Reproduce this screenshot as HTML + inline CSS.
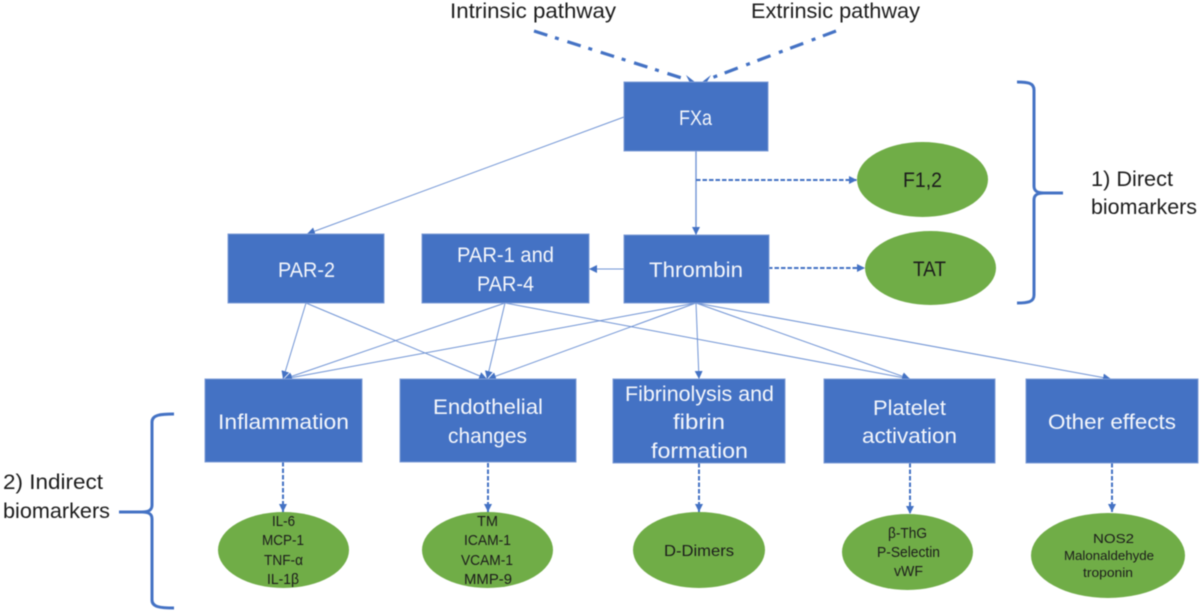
<!DOCTYPE html>
<html lang="en">
<head>
<meta charset="utf-8">
<title>Coagulation biomarkers diagram</title>
<style>
html,body{margin:0;padding:0;background:#fff;width:1200px;height:612px;overflow:hidden}
svg{display:block;filter:blur(.5px)}
text{font-family:"Liberation Sans",sans-serif}
.w text{fill:#f4f6fb;font-size:21px}
.k{fill:#1c1c1c;font-size:21px}
.s{fill:#1c1c1c;font-size:15px}
.t{fill:#1c1c1c;font-size:13px}
.r{fill:#4472C4;stroke:#7f9dd6;stroke-width:1}
.e{fill:#70AD47}
.l{stroke:#6f93d4;stroke-width:1;fill:none}
.d{stroke:#4472C4;stroke-width:2;stroke-dasharray:4.5 2;fill:none}
.b{stroke:#4472C4;stroke-width:3;fill:none}
</style>
</head>
<body>
<svg width="1200" height="612" viewBox="0 0 1200 612" xmlns="http://www.w3.org/2000/svg">
<defs>
<marker id="a" markerWidth="10" markerHeight="10" refX="8" refY="4" orient="auto" markerUnits="userSpaceOnUse"><path d="M0,0 L8,4 L0,8 Z" fill="#4472C4"/></marker>
</defs>

<g class="l">
<line x1="624" y1="117" x2="307" y2="234" marker-end="url(#a)"/>
<line x1="696" y1="151" x2="696" y2="235" marker-end="url(#a)" style="stroke-width:1.4"/>
<line x1="624" y1="269" x2="589" y2="269" marker-end="url(#a)"/>
<line x1="306" y1="303" x2="283" y2="379" marker-end="url(#a)"/>
<line x1="306" y1="303" x2="487" y2="379" marker-end="url(#a)"/>
<line x1="505" y1="303" x2="284" y2="379" marker-end="url(#a)"/>
<line x1="505" y1="303" x2="487" y2="379" marker-end="url(#a)"/>
<line x1="505" y1="303" x2="910" y2="379" marker-end="url(#a)"/>
<line x1="696" y1="303" x2="284" y2="379" marker-end="url(#a)"/>
<line x1="696" y1="303" x2="488" y2="379" marker-end="url(#a)"/>
<line x1="696" y1="303" x2="699" y2="379" marker-end="url(#a)"/>
<line x1="696" y1="303" x2="910" y2="379" marker-end="url(#a)"/>
<line x1="696" y1="303" x2="1111" y2="379" marker-end="url(#a)"/>
</g>

<g fill="none" stroke="#4472C4" stroke-width="3.2" stroke-dasharray="14 8 4 9">
<line x1="534" y1="31" x2="688" y2="80"/>
<line x1="836" y1="31" x2="706" y2="80"/>
</g>
<path d="M686,75 L695,82 L702,82 L711,75 L704,87 L692,87 Z" fill="#4472C4"/>

<g class="d">
<line x1="696" y1="180" x2="857" y2="180" marker-end="url(#a)"/>
<line x1="768" y1="268" x2="865" y2="268" marker-end="url(#a)"/>
<line x1="283" y1="462" x2="283" y2="512" marker-end="url(#a)"/>
<line x1="488" y1="463" x2="488" y2="512" marker-end="url(#a)"/>
<line x1="699" y1="463" x2="699" y2="512" marker-end="url(#a)"/>
<line x1="910" y1="463" x2="910" y2="514" marker-end="url(#a)"/>
<line x1="1112" y1="463" x2="1112" y2="512" marker-end="url(#a)"/>
</g>

<rect class="r" x="624" y="82" width="144" height="69"/>
<rect class="r" x="228" y="234" width="156" height="69"/>
<rect class="r" x="422" y="234" width="167" height="69"/>
<rect class="r" x="624" y="235" width="145" height="68"/>
<rect class="r" x="205" y="379" width="157" height="83"/>
<rect class="r" x="400" y="379" width="176" height="83"/>
<rect class="r" x="613" y="379" width="172" height="84"/>
<rect class="r" x="824" y="379" width="171" height="84"/>
<rect class="r" x="1026" y="379" width="172" height="84"/>

<ellipse class="e" cx="922.5" cy="179.5" rx="65.5" ry="37.5"/>
<ellipse class="e" cx="930.5" cy="268" rx="65.5" ry="37"/>
<ellipse class="e" cx="283.5" cy="550" rx="65.5" ry="38"/>
<ellipse class="e" cx="487.5" cy="550" rx="65.5" ry="38"/>
<ellipse class="e" cx="699" cy="550" rx="66" ry="38"/>
<ellipse class="e" cx="907.5" cy="552" rx="65.5" ry="38"/>
<ellipse class="e" cx="1108" cy="555.5" rx="77" ry="42.5"/>

<path class="b" d="M1017,82 C1028,82 1034,83 1034,90 L1034,186 C1034,191 1037,193 1044,193 L1063,193 L1044,193 C1037,193 1034,195 1034,200 L1034,295 C1034,302 1028,303 1017,303"/>
<path class="b" d="M174,414 C160,414 152,415 152,422 L152,505 C152,510 149,512 142,512 L119,512 L142,512 C149,512 152,514 152,519 L152,600 C152,607 160,608 174,608"/>

<text class="k" x="450" y="18" textLength="166" lengthAdjust="spacingAndGlyphs">Intrinsic pathway</text>
<text class="k" x="751" y="18" textLength="169" lengthAdjust="spacingAndGlyphs">Extrinsic pathway</text>
<text class="k" x="1091" y="186" textLength="82" lengthAdjust="spacingAndGlyphs">1) Direct</text>
<text class="k" x="1091" y="214" textLength="106" lengthAdjust="spacingAndGlyphs">biomarkers</text>
<text class="k" x="3" y="489" textLength="100" lengthAdjust="spacingAndGlyphs">2) Indirect</text>
<text class="k" x="3" y="518" textLength="107" lengthAdjust="spacingAndGlyphs">biomarkers</text>
<text class="k" x="903" y="187" textLength="39" lengthAdjust="spacingAndGlyphs">F1,2</text>
<text class="k" x="913" y="276" textLength="33" lengthAdjust="spacingAndGlyphs">TAT</text>

<g class="w">
<text x="679" y="125" textLength="33" lengthAdjust="spacingAndGlyphs">FXa</text>
<text x="278" y="277" textLength="57" lengthAdjust="spacingAndGlyphs">PAR-2</text>
<text x="457" y="262" textLength="97" lengthAdjust="spacingAndGlyphs">PAR-1 and</text>
<text x="477" y="291" textLength="57" lengthAdjust="spacingAndGlyphs">PAR-4</text>
<text x="649" y="277" textLength="94" lengthAdjust="spacingAndGlyphs">Thrombin</text>
<text x="218" y="429" textLength="131" lengthAdjust="spacingAndGlyphs">Inflammation</text>
<text x="433" y="414" textLength="110" lengthAdjust="spacingAndGlyphs">Endothelial</text>
<text x="448" y="443" textLength="79" lengthAdjust="spacingAndGlyphs">changes</text>
<text x="625" y="401" textLength="149" lengthAdjust="spacingAndGlyphs">Fibrinolysis and</text>
<text x="673" y="429" textLength="52" lengthAdjust="spacingAndGlyphs">fibrin</text>
<text x="651" y="458" textLength="97" lengthAdjust="spacingAndGlyphs">formation</text>
<text x="873" y="415" textLength="73" lengthAdjust="spacingAndGlyphs">Platelet</text>
<text x="862" y="443" textLength="95" lengthAdjust="spacingAndGlyphs">activation</text>
<text x="1048" y="429" textLength="128" lengthAdjust="spacingAndGlyphs">Other effects</text>
</g>

<text class="s" x="272" y="526" textLength="23" lengthAdjust="spacingAndGlyphs">IL-6</text>
<text class="s" x="262" y="545" textLength="42" lengthAdjust="spacingAndGlyphs">MCP-1</text>
<text class="s" x="264" y="565" textLength="39" lengthAdjust="spacingAndGlyphs">TNF-α</text>
<text class="s" x="267" y="584" textLength="32" lengthAdjust="spacingAndGlyphs">IL-1β</text>
<text class="s" x="477" y="526" textLength="21" lengthAdjust="spacingAndGlyphs">TM</text>
<text class="s" x="464" y="545" textLength="47" lengthAdjust="spacingAndGlyphs">ICAM-1</text>
<text class="s" x="461" y="565" textLength="52" lengthAdjust="spacingAndGlyphs">VCAM-1</text>
<text class="s" x="464" y="584" textLength="48" lengthAdjust="spacingAndGlyphs">MMP-9</text>
<text class="s" x="664" y="556" textLength="70" lengthAdjust="spacingAndGlyphs" style="font-size:16px">D-Dimers</text>
<text class="s" x="888" y="538" textLength="39" lengthAdjust="spacingAndGlyphs">β-ThG</text>
<text class="s" x="877" y="557" textLength="63" lengthAdjust="spacingAndGlyphs">P-Selectin</text>
<text class="s" x="894" y="576" textLength="29" lengthAdjust="spacingAndGlyphs">vWF</text>
<text class="t" x="1093" y="543" textLength="41" lengthAdjust="spacingAndGlyphs">NOS2</text>
<text class="t" x="1064" y="560" textLength="90" lengthAdjust="spacingAndGlyphs">Malonaldehyde</text>
<text class="t" x="1083" y="577" textLength="50" lengthAdjust="spacingAndGlyphs">troponin</text>
</svg>
</body>
</html>
